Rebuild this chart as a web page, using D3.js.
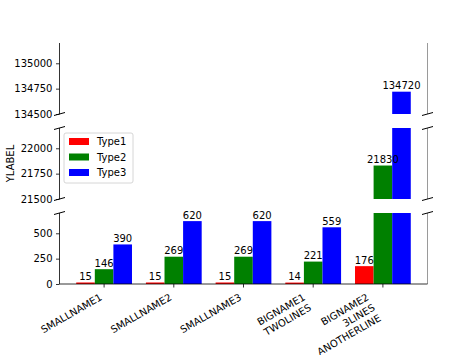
<!DOCTYPE html>
<html>
<head>
<meta charset="utf-8">
<script src="https://cdn.jsdelivr.net/npm/d3@7"></script>
<style>
  body { margin: 0; background: #fff; }
  svg { display: block; font-family: "DejaVu Sans", sans-serif; }
</style>
</head>
<body>
<svg id="chart" width="474" height="355"></svg>
<script>
const categories = ["SMALLNAME1", "SMALLNAME2", "SMALLNAME3", "BIGNAME1\nTWOLINES", "BIGNAME2\n3LINES\nANOTHERLINE"];
const seriesNames = ["Type1", "Type2", "Type3"];
const type1 = [15, 15, 15, 14, 176];
const type2 = [146, 269, 269, 221, 21830];
const type3 = [390, 620, 620, 559, 134720];
const colors = ["red", "green", "blue"];
const yLabel = "YLABEL";
const panelDomains = [[134500, 135200], [21500, 22200], [0, 700]];
const panelTicks = [[134500, 134750, 135000], [21500, 21750, 22000], [0, 250, 500]];

const svg = d3.select("#chart");
const W = 474, H = 355;
const left = 59.5, right = 427.5;
const panelTops = [43, 128, 213];
const panelH = 71;
const series = [type1, type2, type3];
const fs = 10;

const x = d3.scaleLinear().domain([-0.64, 4.64]).range([left, right]);
const bw = 0.8 / 3;

const panels = panelTops.map((t, i) => ({
  top: t, bottom: t + panelH,
  y: d3.scaleLinear().domain(panelDomains[i]).range([t + panelH, t])
}));

const defs = svg.append("defs");
panels.forEach((p, i) => {
  defs.append("clipPath").attr("id", "clip" + i)
    .append("rect").attr("x", left).attr("y", p.top).attr("width", right - left).attr("height", panelH);
});

panels.forEach((p, pi) => {
  const g = svg.append("g");
  const bars = g.append("g").attr("clip-path", `url(#clip${pi})`);
  series.forEach((vals, si) => {
    bars.selectAll(null).data(vals).enter().append("rect")
      .attr("x", (d, i) => x(i + (si - 1) * bw - bw / 2))
      .attr("width", x(bw) - x(0))
      .attr("y", d => Math.min(p.y(d), p.bottom + 5))
      .attr("height", d => Math.max(0, p.bottom + 5 - Math.min(p.y(d), p.bottom + 5)))
      .attr("fill", colors[si]);
  });
  // value labels
  series.forEach((vals, si) => {
    vals.forEach((v, i) => {
      const [d0, d1] = panelDomains[pi];
      if (v >= d0 && v <= d1) {
        g.append("text")
          .attr("x", x(i + (si - 1) * bw))
          .attr("y", p.y(v) - 2.5)
          .attr("text-anchor", "middle")
          .attr("font-size", fs)
          .attr("fill", "black")
          .text(v);
      }
    });
  });
  // y axis
  const yAxis = d3.axisLeft(p.y).tickValues(panelTicks[pi]).tickSize(3.5).tickPadding(3.5).tickFormat(d3.format("d"));
  const ga = g.append("g").attr("transform", `translate(${left},0)`).call(yAxis);
  ga.select(".domain").remove();
  ga.selectAll("text").attr("font-size", fs).attr("font-family", "DejaVu Sans");
  ga.selectAll("line").attr("stroke", "black").attr("stroke-width", 0.8);
  // spines
  g.append("line").attr("x1", left).attr("x2", left).attr("y1", p.top).attr("y2", p.bottom)
    .attr("stroke", "black").attr("stroke-width", 0.8);
  g.append("line").attr("x1", right).attr("x2", right).attr("y1", p.top).attr("y2", p.bottom)
    .attr("stroke", "#808080").attr("stroke-width", 0.8);
  // break marks
  const marks = [];
  if (pi > 0) marks.push(p.top);
  if (pi < 2) marks.push(p.bottom);
  marks.forEach(yy => {
    [left, right].forEach(xx => {
      g.append("line").attr("x1", xx - 5.5).attr("y1", yy + 1.5).attr("x2", xx + 5.5).attr("y2", yy - 1.5)
        .attr("stroke", "black").attr("stroke-width", 1);
    });
  });
});

// x axis on bottom panel
const pb = panels[2];
const gx = svg.append("g").attr("transform", `translate(0,${pb.bottom})`);
gx.append("line").attr("x1", left).attr("x2", right).attr("y1", 0).attr("y2", 0)
  .attr("stroke", "black").attr("stroke-width", 0.8);
categories.forEach((c, i) => {
  const tx = x(i);
  gx.append("line").attr("x1", tx).attr("x2", tx).attr("y1", 0).attr("y2", 3.5)
    .attr("stroke", "black").attr("stroke-width", 0.8);
  const lines = c.split("\n");
  const lh = fs * 1.2;
  const hBox = lines.length * lh;
  const s = Math.sin(Math.PI / 6);
  const grp = gx.append("g").attr("transform", `translate(${tx - hBox * s},7) rotate(-30)`);
  const t = grp.append("text").attr("font-size", fs).attr("text-anchor", "end").attr("fill", "black");
  lines.forEach((ln, li) => {
    t.append("tspan").attr("x", 0).attr("y", fs * 0.95 + li * lh).text(ln);
  });
});

// y label
svg.append("text")
  .attr("transform", `translate(14,${(panels[1].top + panels[1].bottom) / 2}) rotate(-90)`)
  .attr("text-anchor", "middle")
  .attr("font-size", fs)
  .text(yLabel);

// legend
const lg = svg.append("g").attr("transform", "translate(64,133)");
lg.append("rect").attr("x", 0).attr("y", 0).attr("width", 69).attr("height", 50)
  .attr("rx", 2).attr("fill", "white").attr("fill-opacity", 0.8)
  .attr("stroke", "#cccccc").attr("stroke-width", 0.8);
seriesNames.forEach((n, i) => {
  const cy = 8.5 + i * 15.5;
  lg.append("rect").attr("x", 5).attr("y", cy - 3.5).attr("width", 20).attr("height", 7).attr("fill", colors[i]);
  lg.append("text").attr("x", 33).attr("y", cy + 3.6).attr("font-size", fs).text(n);
});
</script>
</body>
</html>
